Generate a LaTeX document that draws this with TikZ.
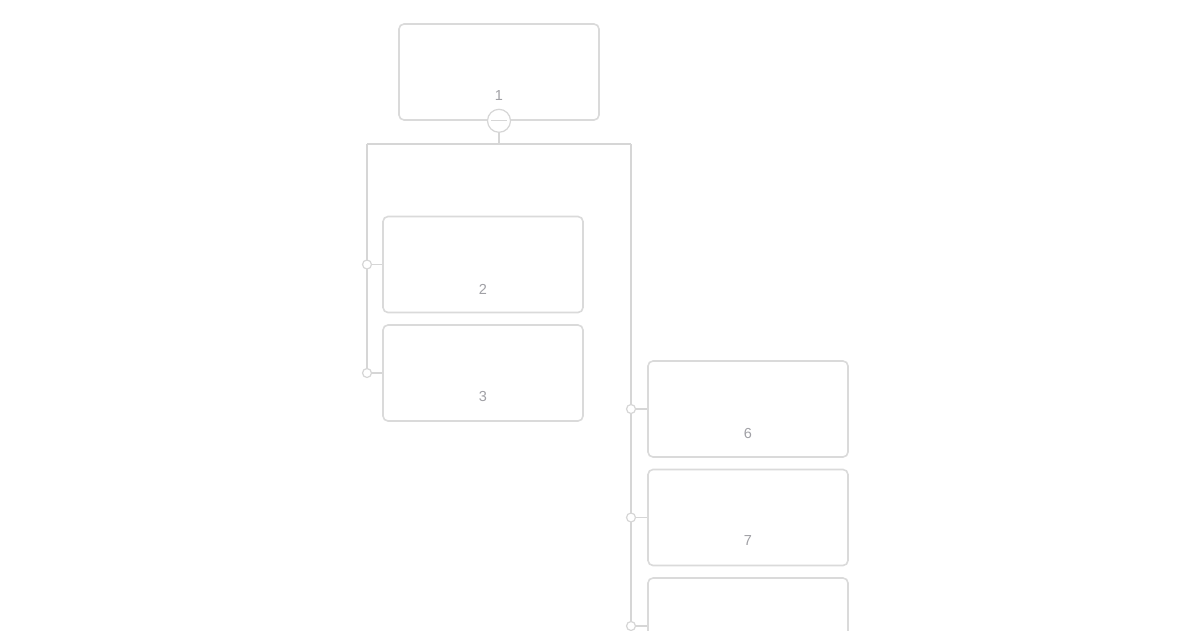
\documentclass[tikz,border=0pt]{standalone}
\usepackage{fontspec}
\setmainfont{Liberation Sans}
\definecolor{boxgray}{HTML}{DADADA}
\definecolor{linegray}{HTML}{D6D6D6}
\definecolor{txtgray}{HTML}{A0A0A5}
\begin{document}
\begin{tikzpicture}[x=1pt,y=-1pt,
  box/.style={draw=boxgray, line width=1.6pt, rounded corners=5pt, minimum width=200pt, minimum height=96pt, fill=white, inner sep=0pt},
  lbl/.style={text=txtgray, font=\fontsize{14.5}{14.5}\selectfont, inner sep=1pt},
  conn/.style={draw=linegray, line width=1.5pt},
  dot/.style={circle, draw=linegray, line width=1.2pt, fill=white, minimum size=9pt, inner sep=0pt},
  minus/.style={circle, draw=linegray, line width=1.2pt, fill=white, minimum size=23pt, inner sep=0pt}]
\useasboundingbox (0,0) rectangle (1200,630);
\clip (0,0) rectangle (1200,630);
% boxes
\node[box] (b1) at (499,72) {};
\node[lbl] (t1) at (499,96) {1};
\node[box] (b2) at (483,264.5) {};
\node[lbl] (t2) at (483,289) {2};
\node[box] (b3) at (483,373) {};
\node[lbl] (t3) at (483,397) {3};
\node[box] (b6) at (748,409) {};
\node[lbl] (t6) at (748,433) {6};
\node[box] (b7) at (748,517.5) {};
\node[lbl] (t7) at (748,541) {7};
\node[box] (b8) at (748,626) {};
% collapse control
\node[minus] (m) at (b1.south) {};
\draw[draw=linegray, line width=1pt] ([xshift=-8pt]m.center) -- ([xshift=8pt]m.center);
% tree connectors
\coordinate (bl) at (367,144);
\coordinate (br) at (631,144);
\coordinate (rend) at (631,645);
\draw[conn] (m.south) -- (m.south |- bl);
\draw[conn] (bl) -- (br);
\draw[conn] (bl) -- (bl |- b3.west);
\draw[conn] (br) -- (rend);
\draw[conn] (bl |- b2.west) -- (b2.west);
\draw[conn] (bl |- b3.west) -- (b3.west);
\draw[conn] (br |- b6.west) -- (b6.west);
\draw[conn] (br |- b7.west) -- (b7.west);
\draw[conn] (br |- b8.west) -- (b8.west);
\node[dot] (d2) at (bl |- b2.west) {};
\node[dot] (d3) at (bl |- b3.west) {};
\node[dot] (d6) at (br |- b6.west) {};
\node[dot] (d7) at (br |- b7.west) {};
\node[dot] (d8) at (br |- b8.west) {};
\end{tikzpicture}
\end{document}
